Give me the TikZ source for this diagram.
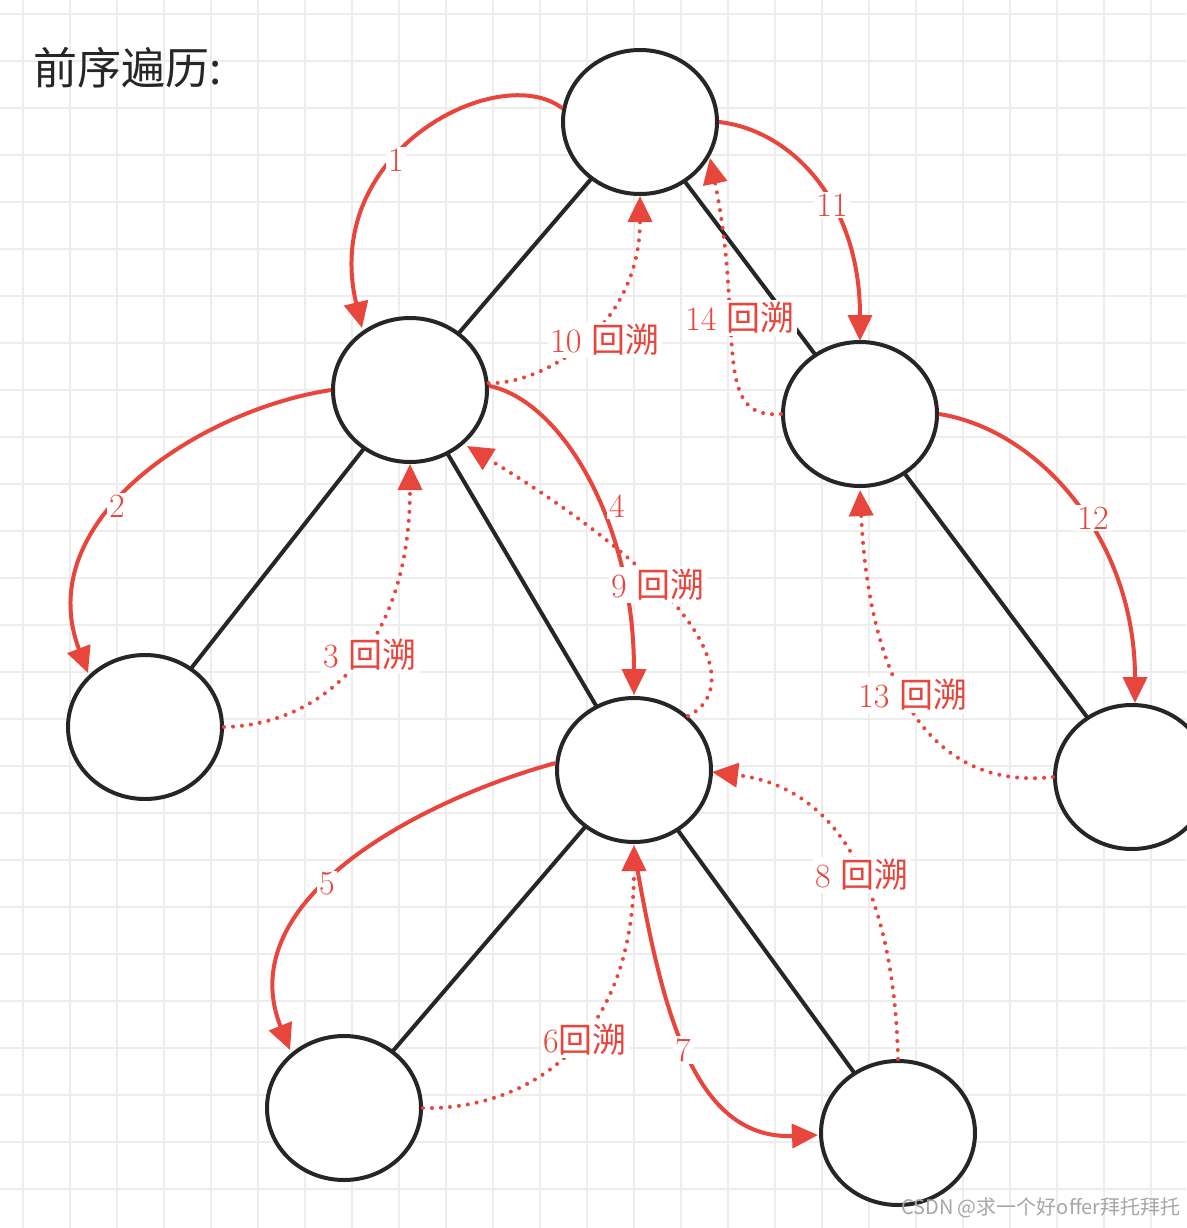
\documentclass[tikz,border=0pt]{standalone}
\usepackage{fontspec}
\newfontfamily\cjk{Noto Sans CJK SC}
\usetikzlibrary{arrows.meta,shapes.geometric}
\definecolor{rd}{HTML}{E8453C}
\begin{document}
\begin{tikzpicture}[x=1pt,y=-1pt,
  tn/.style={draw=black!85,line width=4pt,ellipse,minimum width=154pt,minimum height=144pt,fill=white},
  ed/.style={draw=black!85,line width=4pt},
  go/.style={draw=rd,line width=4pt,-{Triangle[length=26pt,width=24pt]}},
  back/.style={draw=rd,line width=4pt,dotted,line cap=round,dash pattern=on 0pt off 9pt,-{Triangle[length=26pt,width=24pt]}},
  lb/.style={fill=white,text=rd,inner sep=2pt,font=\fontsize{34}{36}\selectfont}]
\useasboundingbox (0,0) rectangle (1186,1228);
\fill[white] (0,0) rectangle (1186,1228);
\foreach \x in {23,70,...,1186} \draw[black!7,line width=2pt] (\x,0) -- (\x,1228);
\foreach \y in {14,61,...,1228} \draw[black!7,line width=2pt] (0,\y) -- (1186,\y);
\node[anchor=west,font=\cjk\fontsize{44}{46}\selectfont,text=black!85] (title) at (30,68) {前序遍历:};
% nodes
\coordinate (Ac) at (640,122);
\coordinate (Bc) at (410,390);
\coordinate (Cc) at (145,727);
\coordinate (Dc) at (634,770);
\coordinate (Ec) at (860,414);
\coordinate (Fc) at (1132,777);
\coordinate (Gc) at (344,1108);
\coordinate (Hc) at (898,1133);
\draw[ed] (Ac) -- (Bc); \draw[ed] (Ac) -- (Ec); \draw[ed] (Bc) -- (Cc);
\draw[ed] (Bc) -- (Dc); \draw[ed] (Dc) -- (Gc); \draw[ed] (Dc) -- (Hc);
\draw[ed] (Ec) -- (Fc);
\foreach \n in {A,B,C,D,E,F,G,H} \node[tn] (\n) at (\n c) {};
% arrows
\draw[go] (A.170) .. controls (500,60) and (320,150) .. (362,328);
\draw[go] (A.0) .. controls (790,130) and (860,200) .. (860,341);
\draw[back] (B.5) .. controls (540,385) and (640,330) .. (640,196);
\draw[back] (E.180) .. controls (710,420) and (745,330) .. (710,158);
\draw[go] (B.180) .. controls (200,410) and (30,520) .. (88,673);
\draw[back] (C.0) .. controls (320,725) and (410,650) .. (410,464);
\draw[go] (B.3) .. controls (560,400) and (634,520) .. (634,695);
\draw[back] (D.45) .. controls (740,690) and (720,600) .. (467,446);
\draw[go] (D.175) .. controls (420,800) and (230,900) .. (290,1050);
\draw[back] (G.0) .. controls (520,1110) and (634,1050) .. (634,845);
\draw[go] (634,850) .. controls (660,1000) and (690,1140) .. (818,1135);
\draw[back] (H.90) .. controls (895,930) and (860,790) .. (712,772);
\draw[go] (E.0) .. controls (1040,430) and (1135,540) .. (1135,703);
\draw[back] (F.180) .. controls (940,790) and (870,700) .. (860,490);
% labels
\node[lb] (l1) at (396,160) {1};
\node[lb] (l11) at (832,205) {11};
\node[lb] (l10) at (605,340) {10 {\cjk 回溯}};
\node[lb] (l14) at (740,318) {14 {\cjk 回溯}};
\node[lb] (l2) at (117,506) {2};
\node[lb] (l3) at (370,655) {3 {\cjk 回溯}};
\node[lb] (l4) at (617,506) {4};
\node[lb] (l9) at (658,585) {9 {\cjk 回溯}};
\node[lb] (l5) at (327,884) {5};
\node[lb] (l6) at (585,1040) {6{\cjk 回溯}};
\node[lb] (l7) at (683,1050) {7};
\node[lb] (l8) at (862,875) {8 {\cjk 回溯}};
\node[lb] (l12) at (1093,518) {12};
\node[lb] (l13) at (913,695) {13 {\cjk 回溯}};
\node[anchor=east,text=black!35,font=\cjk\fontsize{20}{22}\selectfont] (wm) at (1184,1208) {CSDN @求一个好offer拜托拜托};
\end{tikzpicture}
\end{document}
